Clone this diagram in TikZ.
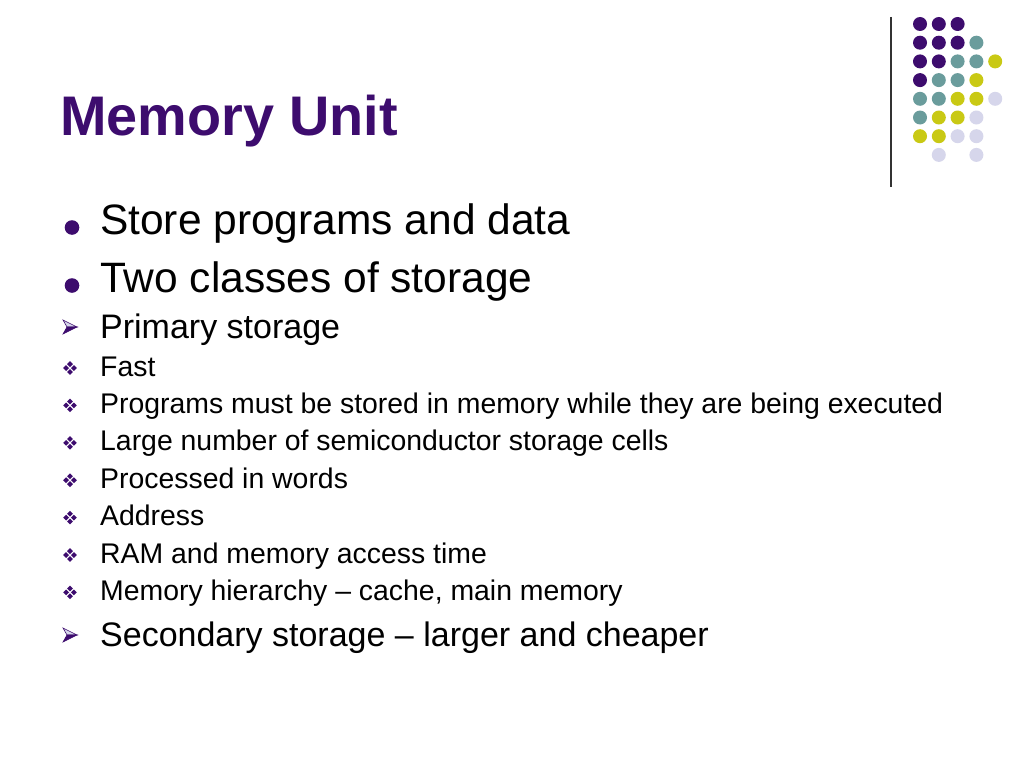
\documentclass[tikz,border=0pt]{standalone}
\usepackage{fontspec}
\setmainfont{Liberation Sans}
\definecolor{slidepurple}{HTML}{3D0C6E}
\definecolor{slideteal}{HTML}{6A9C9C}
\definecolor{slideyellow}{HTML}{C9C914}
\definecolor{slidelilac}{HTML}{D6D6EB}
\tikzset{
  textline/.style = {anchor=base west, inner sep=0pt},
  slidetitle/.style = {textline, text=slidepurple, font=\bfseries\fontsize{55.8}{60}\selectfont},
  lvl_a/.style = {textline, font=\fontsize{42.5}{48}\selectfont},
  lvl_b/.style = {textline, font=\fontsize{34}{38}\selectfont},
  lvl_c/.style = {textline, font=\fontsize{28.4}{32}\selectfont},
  dot/.style = {circle, inner sep=0pt, minimum size=14pt},
}
\newcommand{\roundbullet}[1]{\fill[slidepurple] (#1) circle (7.3);}
\newcommand{\arrowbullet}[1]{%
  \begin{scope}[shift={(#1)}]
    \filldraw[fill=slidelilac, draw=slidepurple, line width=0.6pt] (-7,-7) -- (7,0) -- (-3,0) -- cycle;
    \filldraw[fill=slidepurple, draw=slidepurple, line width=0.6pt] (-3,0) -- (7,0) -- (-7,7) -- cycle;
  \end{scope}}
\newcommand{\diamondbullet}[1]{%
  \begin{scope}[shift={(#1)}]
    \foreach \dx/\dy in {-3.9/0, 3.9/0, 0/-3.9, 0/3.9}
      \fill[slidepurple] (\dx-2.9,\dy) -- (\dx,\dy-2.9) -- (\dx+2.9,\dy) -- (\dx,\dy+2.9) -- cycle;
  \end{scope}}

\begin{document}
\begin{tikzpicture}[x=1pt, y=-1pt]
  \useasboundingbox[fill=white] (0,0) rectangle (1024,768);
  % corner decoration
  \draw[line width=1.6pt, black!80] (891,17) -- (891,187);
  \foreach \c/\r/\col in {0/0/slidepurple, 1/0/slidepurple, 2/0/slidepurple,
      0/1/slidepurple, 1/1/slidepurple, 2/1/slidepurple, 3/1/slideteal,
      0/2/slidepurple, 1/2/slidepurple, 2/2/slideteal, 3/2/slideteal, 4/2/slideyellow,
      0/3/slidepurple, 1/3/slideteal, 2/3/slideteal, 3/3/slideyellow,
      0/4/slideteal, 1/4/slideteal, 2/4/slideyellow, 3/4/slideyellow, 4/4/slidelilac,
      0/5/slideteal, 1/5/slideyellow, 2/5/slideyellow, 3/5/slidelilac,
      0/6/slideyellow, 1/6/slideyellow, 2/6/slidelilac, 3/6/slidelilac,
      1/7/slidelilac, 3/7/slidelilac}
    \node[dot, fill=\col] (d\c\r) at (920+18.8*\c, 24+18.7*\r) {};
  % title
  \node[slidetitle] (title) at (60,135) {Memory Unit};
  % bullets
  \roundbullet{72,227.5}
  \node[lvl_a] (store) at (100,234) {Store programs and data};
  \roundbullet{72,285.5}
  \node[lvl_a] (classes) at (100,292) {Two classes of storage};
  \arrowbullet{70,327}
  \node[lvl_b] (primary) at (100,338.5) {Primary storage};
  \diamondbullet{70,368}
  \node[lvl_c] (fast) at (100,376) {Fast};
  \diamondbullet{70,405.4}
  \node[lvl_c] (programs) at (100,413.4) {Programs must be stored in memory while they are being executed};
  \diamondbullet{70,442.8}
  \node[lvl_c] (cells) at (100,450.8) {Large number of semiconductor storage cells};
  \diamondbullet{70,480.2}
  \node[lvl_c] (words) at (100,488.2) {Processed in words};
  \diamondbullet{70,517.6}
  \node[lvl_c] (address) at (100,525.6) {Address};
  \diamondbullet{70,555}
  \node[lvl_c] (ram) at (100,563) {RAM and memory access time};
  \diamondbullet{70,592.4}
  \node[lvl_c] (hierarchy) at (100,600.4) {Memory hierarchy – cache, main memory};
  \arrowbullet{70,635}
  \node[lvl_b] (secondary) at (100,646) {Secondary storage – larger and cheaper};
\end{tikzpicture}
\end{document}
